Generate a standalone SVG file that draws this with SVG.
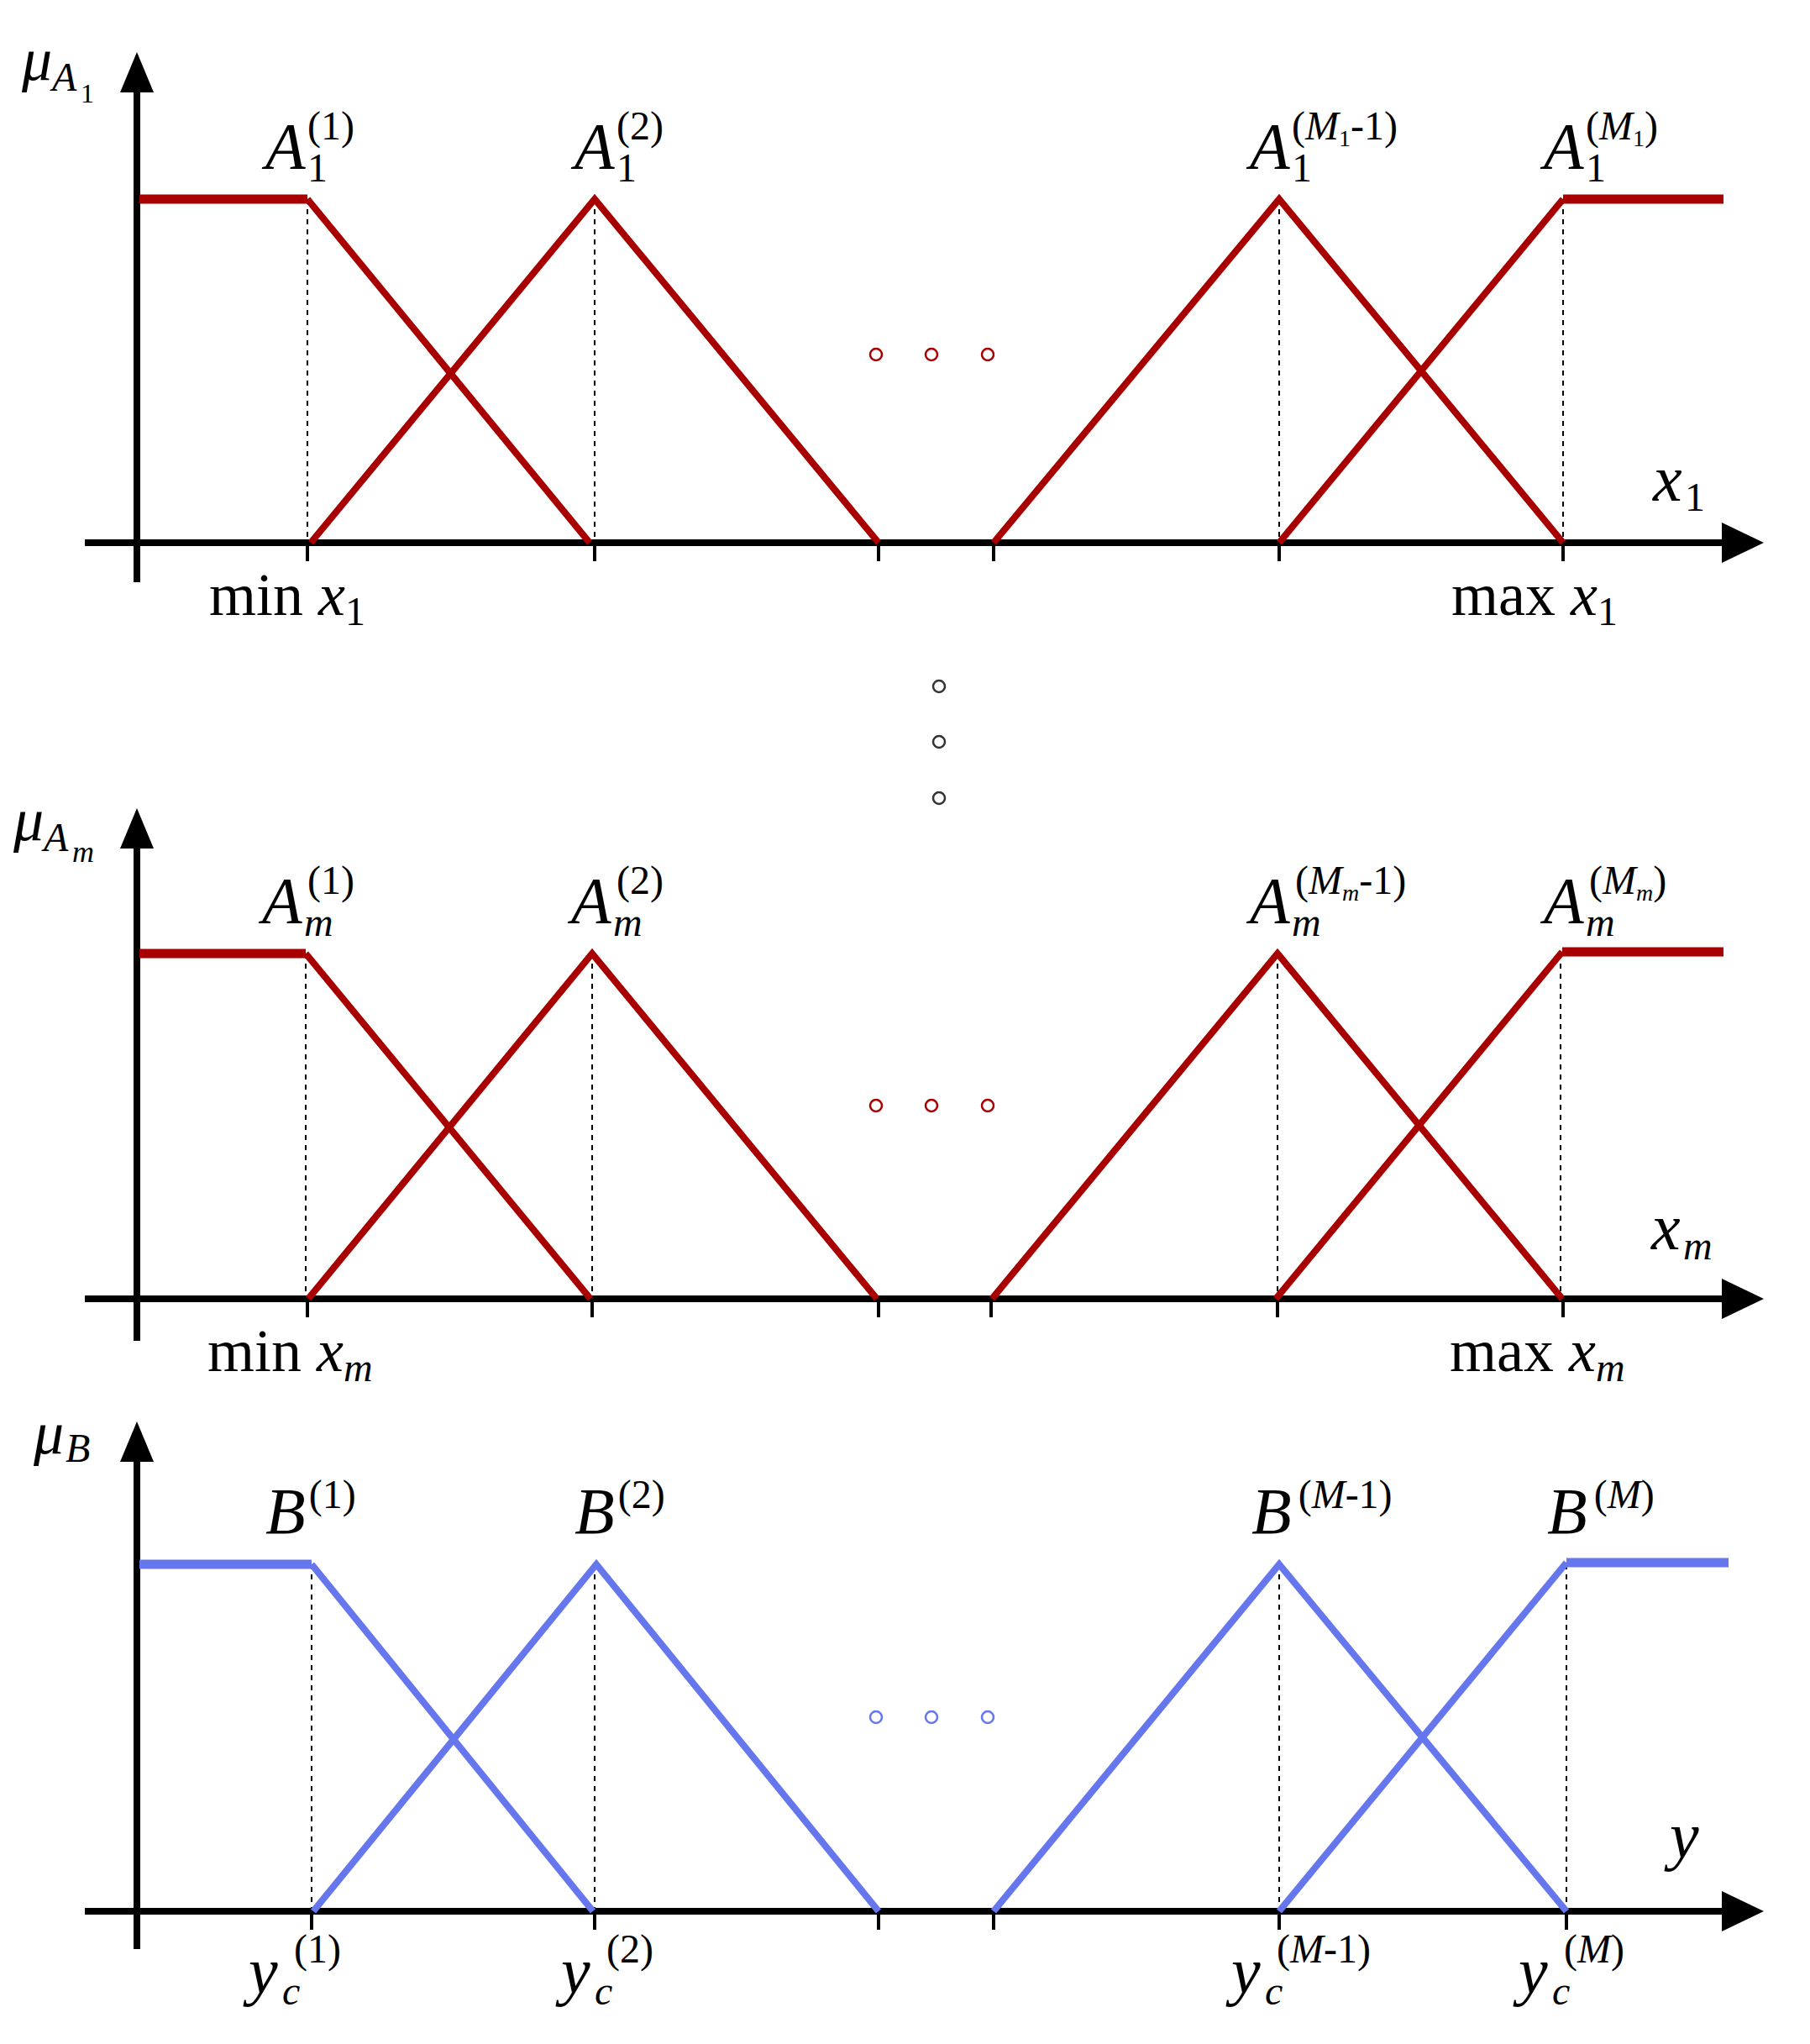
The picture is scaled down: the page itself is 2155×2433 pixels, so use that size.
<svg xmlns="http://www.w3.org/2000/svg" width="2155" height="2433" viewBox="0 0 2155 2433">
<style>
.ax{stroke:#000;stroke-width:8;fill:none}
.tk{stroke:#000;stroke-width:4}
.dt{stroke:#000;stroke-width:2;stroke-dasharray:6 6}
.r{stroke:#a80000;stroke-width:8;fill:none}
.rp{stroke:#a80000;stroke-width:11;fill:none}
.b{stroke:#6677ee;stroke-width:8;fill:none}
.bp{stroke:#6677ee;stroke-width:11;fill:none}
.rd{fill:none;stroke:#a80000;stroke-width:2.5}
.bd{fill:none;stroke:#6677ee;stroke-width:2.5}
.kd{fill:none;stroke:#333;stroke-width:2.5}
text{font-family:"Liberation Serif","DejaVu Serif",serif;fill:#000}
.i{font-style:italic}
.L{font-size:78px}
.s{font-size:48px}
.m{font-size:72px}
</style>
<rect width="2155" height="2433" fill="#fff"/>

<g id="panel1">
<g id="axes1">
<line class="ax" x1="163" y1="693" x2="163" y2="110"/><path d="M143,110 L163,62 L183,110 Z"/>
<line class="ax" x1="101" y1="646" x2="2050" y2="646"/><path d="M2050,622 L2100,646 L2050,670 Z"/>
<g class="tk"><line x1="708" y1="646" x2="708" y2="668"/><line x1="1046" y1="646" x2="1046" y2="668"/><line x1="1183" y1="646" x2="1183" y2="668"/><line x1="1523" y1="646" x2="1523" y2="668"/><line x1="1861" y1="646" x2="1861" y2="668"/><line x1="366" y1="646" x2="366" y2="668"/></g>
</g>
<g class="dt"><line x1="366" y1="237" x2="366" y2="646"/><line x1="708" y1="237" x2="708" y2="646"/><line x1="1523" y1="237" x2="1523" y2="646"/><line x1="1861" y1="237" x2="1861" y2="646"/></g>
<path class="rp" d="M166,237 H366"/><path class="r" d="M366,237 L702,646"/>
<path class="r" d="M370,646 L708,237 L1046,646"/>
<path class="r" d="M1183,646 L1523,237 L1861,646"/>
<path class="r" d="M1523,646 L1861,237"/><path class="rp" d="M1861,237 H2052"/>
<circle class="rd" cx="1043" cy="422" r="7"/><circle class="rd" cx="1109" cy="422" r="7"/><circle class="rd" cx="1176" cy="422" r="7"/>
<text x="26" y="95" class="i m">μ</text><text x="62" y="108" class="i s">A</text><text x="96" y="122" font-size="32">1</text>
<text x="316" y="200" class="i L">A</text><text x="366" y="216" class="s">1</text><text x="366" y="166" class="s">(1)</text>
<text x="684" y="200" class="i L">A</text><text x="734" y="216" class="s">1</text><text x="734" y="166" class="s">(2)</text>
<text x="1488" y="200" class="i L">A</text><text x="1538" y="216" class="s">1</text><text x="1538" y="166" class="s">(<tspan class="i">M</tspan><tspan font-size="28" dy="8">1</tspan><tspan dy="-8">-1)</tspan></text>
<text x="1838" y="200" class="i L">A</text><text x="1888" y="216" class="s">1</text><text x="1888" y="166" class="s">(<tspan class="i">M</tspan><tspan font-size="28" dy="8">1</tspan><tspan dy="-8">)</tspan></text>
<text x="1968" y="596" class="i L">x</text><text x="2006" y="608" class="s">1</text>
<text x="249" y="732" class="m">min <tspan class="i">x</tspan><tspan class="s" dy="12">1</tspan></text>
<text x="1728" y="732" class="m">max <tspan class="i">x</tspan><tspan class="s" dy="12">1</tspan></text>
</g>

<g id="vdots"><circle class="kd" cx="1118" cy="817" r="7"/><circle class="kd" cx="1118" cy="883" r="7"/><circle class="kd" cx="1118" cy="950" r="7"/></g>

<g id="panel2">
<line class="ax" x1="163" y1="1596" x2="163" y2="1010"/><path d="M143,1010 L163,962 L183,1010 Z"/>
<line class="ax" x1="101" y1="1546" x2="2050" y2="1546"/><path d="M2050,1522 L2100,1546 L2050,1570 Z"/>
<g class="tk"><line x1="366" y1="1546" x2="366" y2="1568"/><line x1="705" y1="1546" x2="705" y2="1568"/><line x1="1046" y1="1546" x2="1046" y2="1568"/><line x1="1180" y1="1546" x2="1180" y2="1568"/><line x1="1521" y1="1546" x2="1521" y2="1568"/><line x1="1861" y1="1546" x2="1861" y2="1568"/></g>
<g class="dt"><line x1="364" y1="1135" x2="364" y2="1546"/><line x1="705" y1="1135" x2="705" y2="1546"/><line x1="1521" y1="1135" x2="1521" y2="1546"/><line x1="1858" y1="1135" x2="1858" y2="1546"/></g>
<path class="rp" d="M166,1135 H364"/><path class="r" d="M364,1135 L703,1546"/>
<path class="r" d="M367,1546 L705,1135 L1044,1546"/>
<path class="r" d="M1181,1546 L1521,1135 L1860,1546"/>
<path class="r" d="M1519,1546 L1860,1133"/><path class="rp" d="M1860,1133 H2052"/>
<circle class="rd" cx="1043" cy="1316" r="7"/><circle class="rd" cx="1109" cy="1316" r="7"/><circle class="rd" cx="1176" cy="1316" r="7"/>
<text x="16" y="1000" class="i m">μ</text><text x="52" y="1013" class="i s">A</text><text x="86" y="1026" font-size="36" class="i">m</text>
<text x="312" y="1098" class="i L">A</text><text x="362" y="1114" class="i s">m</text><text x="366" y="1064" class="s">(1)</text>
<text x="680" y="1098" class="i L">A</text><text x="730" y="1114" class="i s">m</text><text x="734" y="1064" class="s">(2)</text>
<text x="1488" y="1098" class="i L">A</text><text x="1538" y="1114" class="i s">m</text><text x="1542" y="1064" class="s">(<tspan class="i">M</tspan><tspan font-size="28" class="i" dy="8">m</tspan><tspan dy="-8">-1)</tspan></text>
<text x="1838" y="1098" class="i L">A</text><text x="1888" y="1114" class="i s">m</text><text x="1892" y="1064" class="s">(<tspan class="i">M</tspan><tspan font-size="28" class="i" dy="8">m</tspan><tspan dy="-8">)</tspan></text>
<text x="1966" y="1487" class="i L">x</text><text x="2004" y="1499" class="i s">m</text>
<text x="247" y="1632" class="m">min <tspan class="i">x</tspan><tspan class="s i" dy="12">m</tspan></text>
<text x="1726" y="1632" class="m">max <tspan class="i">x</tspan><tspan class="s i" dy="12">m</tspan></text>
</g>

<g id="panel3">
<line class="ax" x1="163" y1="2320" x2="163" y2="1740"/><path d="M143,1740 L163,1692 L183,1740 Z"/>
<line class="ax" x1="101" y1="2275" x2="2050" y2="2275"/><path d="M2050,2251 L2100,2275 L2050,2299 Z"/>
<g class="tk"><line x1="371" y1="2275" x2="371" y2="2297"/><line x1="708" y1="2275" x2="708" y2="2297"/><line x1="1046" y1="2275" x2="1046" y2="2297"/><line x1="1183" y1="2275" x2="1183" y2="2297"/><line x1="1523" y1="2275" x2="1523" y2="2297"/><line x1="1865" y1="2275" x2="1865" y2="2297"/></g>
<g class="dt"><line x1="371" y1="1862" x2="371" y2="2275"/><line x1="708" y1="1862" x2="708" y2="2275"/><line x1="1523" y1="1862" x2="1523" y2="2275"/><line x1="1865" y1="1862" x2="1865" y2="2275"/></g>
<path class="bp" d="M166,1862 H371"/><path class="b" d="M371,1862 L706,2275"/>
<path class="b" d="M373,2275 L710,1862 L1046,2275"/>
<path class="b" d="M1183,2275 L1523,1862 L1865,2275"/>
<path class="b" d="M1523,2275 L1865,1860"/><path class="bp" d="M1865,1860 H2058"/>
<circle class="bd" cx="1043" cy="2044" r="7"/><circle class="bd" cx="1109" cy="2044" r="7"/><circle class="bd" cx="1176" cy="2044" r="7"/>
<text x="40" y="1730" class="i m">μ</text><text x="78" y="1740" class="i s">B</text>
<text x="316" y="1825" class="i L">B<tspan class="s" font-style="normal" dx="4" dy="-30">(1)</tspan></text>
<text x="684" y="1825" class="i L">B<tspan class="s" font-style="normal" dx="4" dy="-30">(2)</tspan></text>
<text x="1490" y="1825" class="i L">B<tspan class="s" dx="8" dy="-30"><tspan font-style="normal">(</tspan>M<tspan font-style="normal">-1)</tspan></tspan></text>
<text x="1842" y="1825" class="i L">B<tspan class="s" dx="8" dy="-30"><tspan font-style="normal">(</tspan>M<tspan font-style="normal">)</tspan></tspan></text>
<text x="1988" y="2211" class="i L">y</text>
<text x="296" y="2372" class="i L">y</text><text x="336" y="2386" class="i s">c</text><text x="350" y="2336" class="s">(1)</text>
<text x="668" y="2372" class="i L">y</text><text x="708" y="2386" class="i s">c</text><text x="722" y="2336" class="s">(2)</text>
<text x="1466" y="2372" class="i L">y</text><text x="1506" y="2386" class="i s">c</text><text x="1520" y="2336" class="s">(<tspan class="i">M</tspan>-1)</text>
<text x="1808" y="2372" class="i L">y</text><text x="1848" y="2386" class="i s">c</text><text x="1862" y="2336" class="s">(<tspan class="i">M</tspan>)</text>
</g>
</svg>
